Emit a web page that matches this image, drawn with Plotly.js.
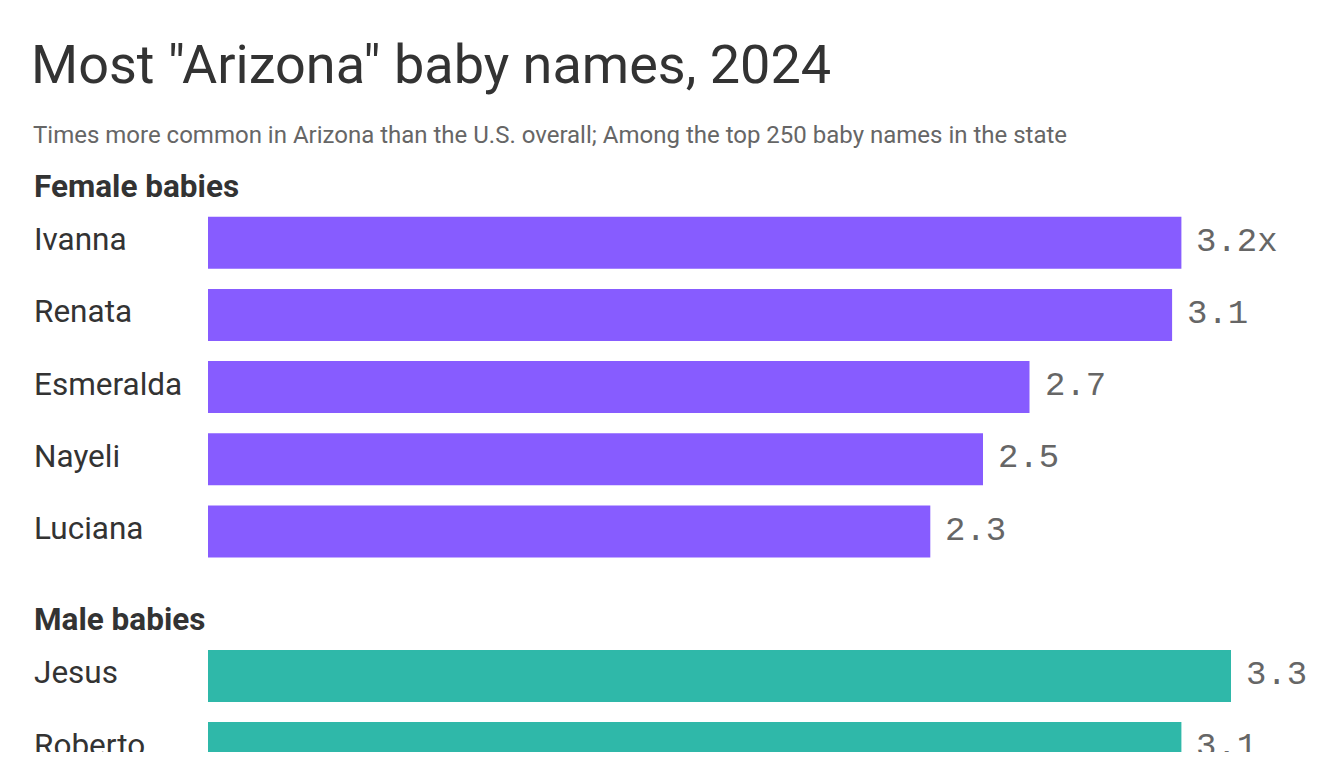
<!DOCTYPE html>
<html><head><meta charset="utf-8">
<script src="https://cdn.plot.ly/plotly-3.0.1.min.js"></script>
<style>html,body{margin:0;padding:0;background:#fff;overflow:hidden}#chart{width:1344px;height:752px}</style>
</head><body><div id="chart"></div>
<script>
const femaleHeader = "Female babies";
const femaleNames = ["Ivanna", "Renata", "Esmeralda", "Nayeli", "Luciana"];
const femaleValues = [3.14, 3.11, 2.65, 2.50, 2.33];
const femaleLabels = ["3.2x", "3.1", "2.7", "2.5", "2.3"];
const maleHeader = "Male babies";
const maleNames = ["Jesus", "Roberto"];
const maleValues = [3.30, 3.14];
const maleLabels = ["3.3", "3.1"];

const W = 1344, H = 752, L = 208, T = 150;
const plotW = W - L, plotH = H - T;
const pxPerUnit = 310, rowPx = 72.2, firstCenter = 170.5;
const rTop = (T - firstCenter) / rowPx;
const rBottom = (H - firstCenter) / rowPx;
const slots = [femaleHeader, ...femaleNames, maleHeader, ...maleNames];
const barWidth = 52 / rowPx;

const nameFont = {family: "Roboto, sans-serif", size: 31.5, color: "#333333"};
const valFont = {family: "'Liberation Mono', 'DejaVu Sans Mono', monospace", size: 34, color: "#666666"};
const px2paperX = p => (p - L) / plotW;
const px2paperY = p => (H - p) / plotH;

const traces = [
  {type: "bar", orientation: "h", y: [femaleHeader, ...femaleNames], x: [null, ...femaleValues],
   marker: {color: "#875CFF"}, width: barWidth, hoverinfo: "skip"},
  {type: "bar", orientation: "h", y: [maleHeader, ...maleNames], x: [null, ...maleValues],
   marker: {color: "#2FB8A9"}, width: barWidth, hoverinfo: "skip"}
];

const annotations = [];
function addGroup(header, names, values, labels) {
  annotations.push({xref: "paper", yref: "y", x: px2paperX(32), y: header, xanchor: "left", yanchor: "middle",
    yshift: -16, text: "<b>" + header + "</b>", showarrow: false, font: nameFont});
  names.forEach((n, i) => {
    annotations.push({xref: "paper", yref: "y", x: px2paperX(32), y: n, xanchor: "left", yanchor: "middle",
      yshift: 3, text: n, showarrow: false, font: nameFont});
    annotations.push({xref: "x", yref: "y", x: values[i], y: n, xanchor: "left", yanchor: "middle",
      xshift: 13, yshift: 1, text: labels[i], showarrow: false, font: valFont});
  });
}
addGroup(femaleHeader, femaleNames, femaleValues, femaleLabels);
addGroup(maleHeader, maleNames, maleValues, maleLabels);
annotations.push({xref: "paper", yref: "paper", x: px2paperX(31), y: px2paperY(135), xanchor: "left", yanchor: "middle",
  text: "Times more common in Arizona than the U.S. overall; Among the top 250 baby names in the state",
  showarrow: false, font: {family: "Roboto, sans-serif", size: 24, color: "#666666"}});

const layout = {
  width: W, height: H,
  margin: {l: L, r: 0, t: T, b: 0, pad: 0},
  paper_bgcolor: "#ffffff", plot_bgcolor: "#ffffff",
  title: {text: 'Most "Arizona" baby names, 2024', xref: "container", yref: "container",
    x: 31 / W, xanchor: "left", y: 1 - 64 / H, yanchor: "middle",
    font: {family: "Roboto, sans-serif", size: 54, color: "#333333"}},
  barmode: "overlay",
  showlegend: false,
  hovermode: false,
  xaxis: {range: [0, plotW / pxPerUnit], visible: false, fixedrange: true},
  yaxis: {type: "category", categoryorder: "array", categoryarray: slots, range: [rBottom, rTop],
    autorange: false, visible: false, fixedrange: true},
  annotations: annotations
};
Plotly.newPlot("chart", traces, layout, {displayModeBar: false, staticPlot: true});
</script></body></html>
